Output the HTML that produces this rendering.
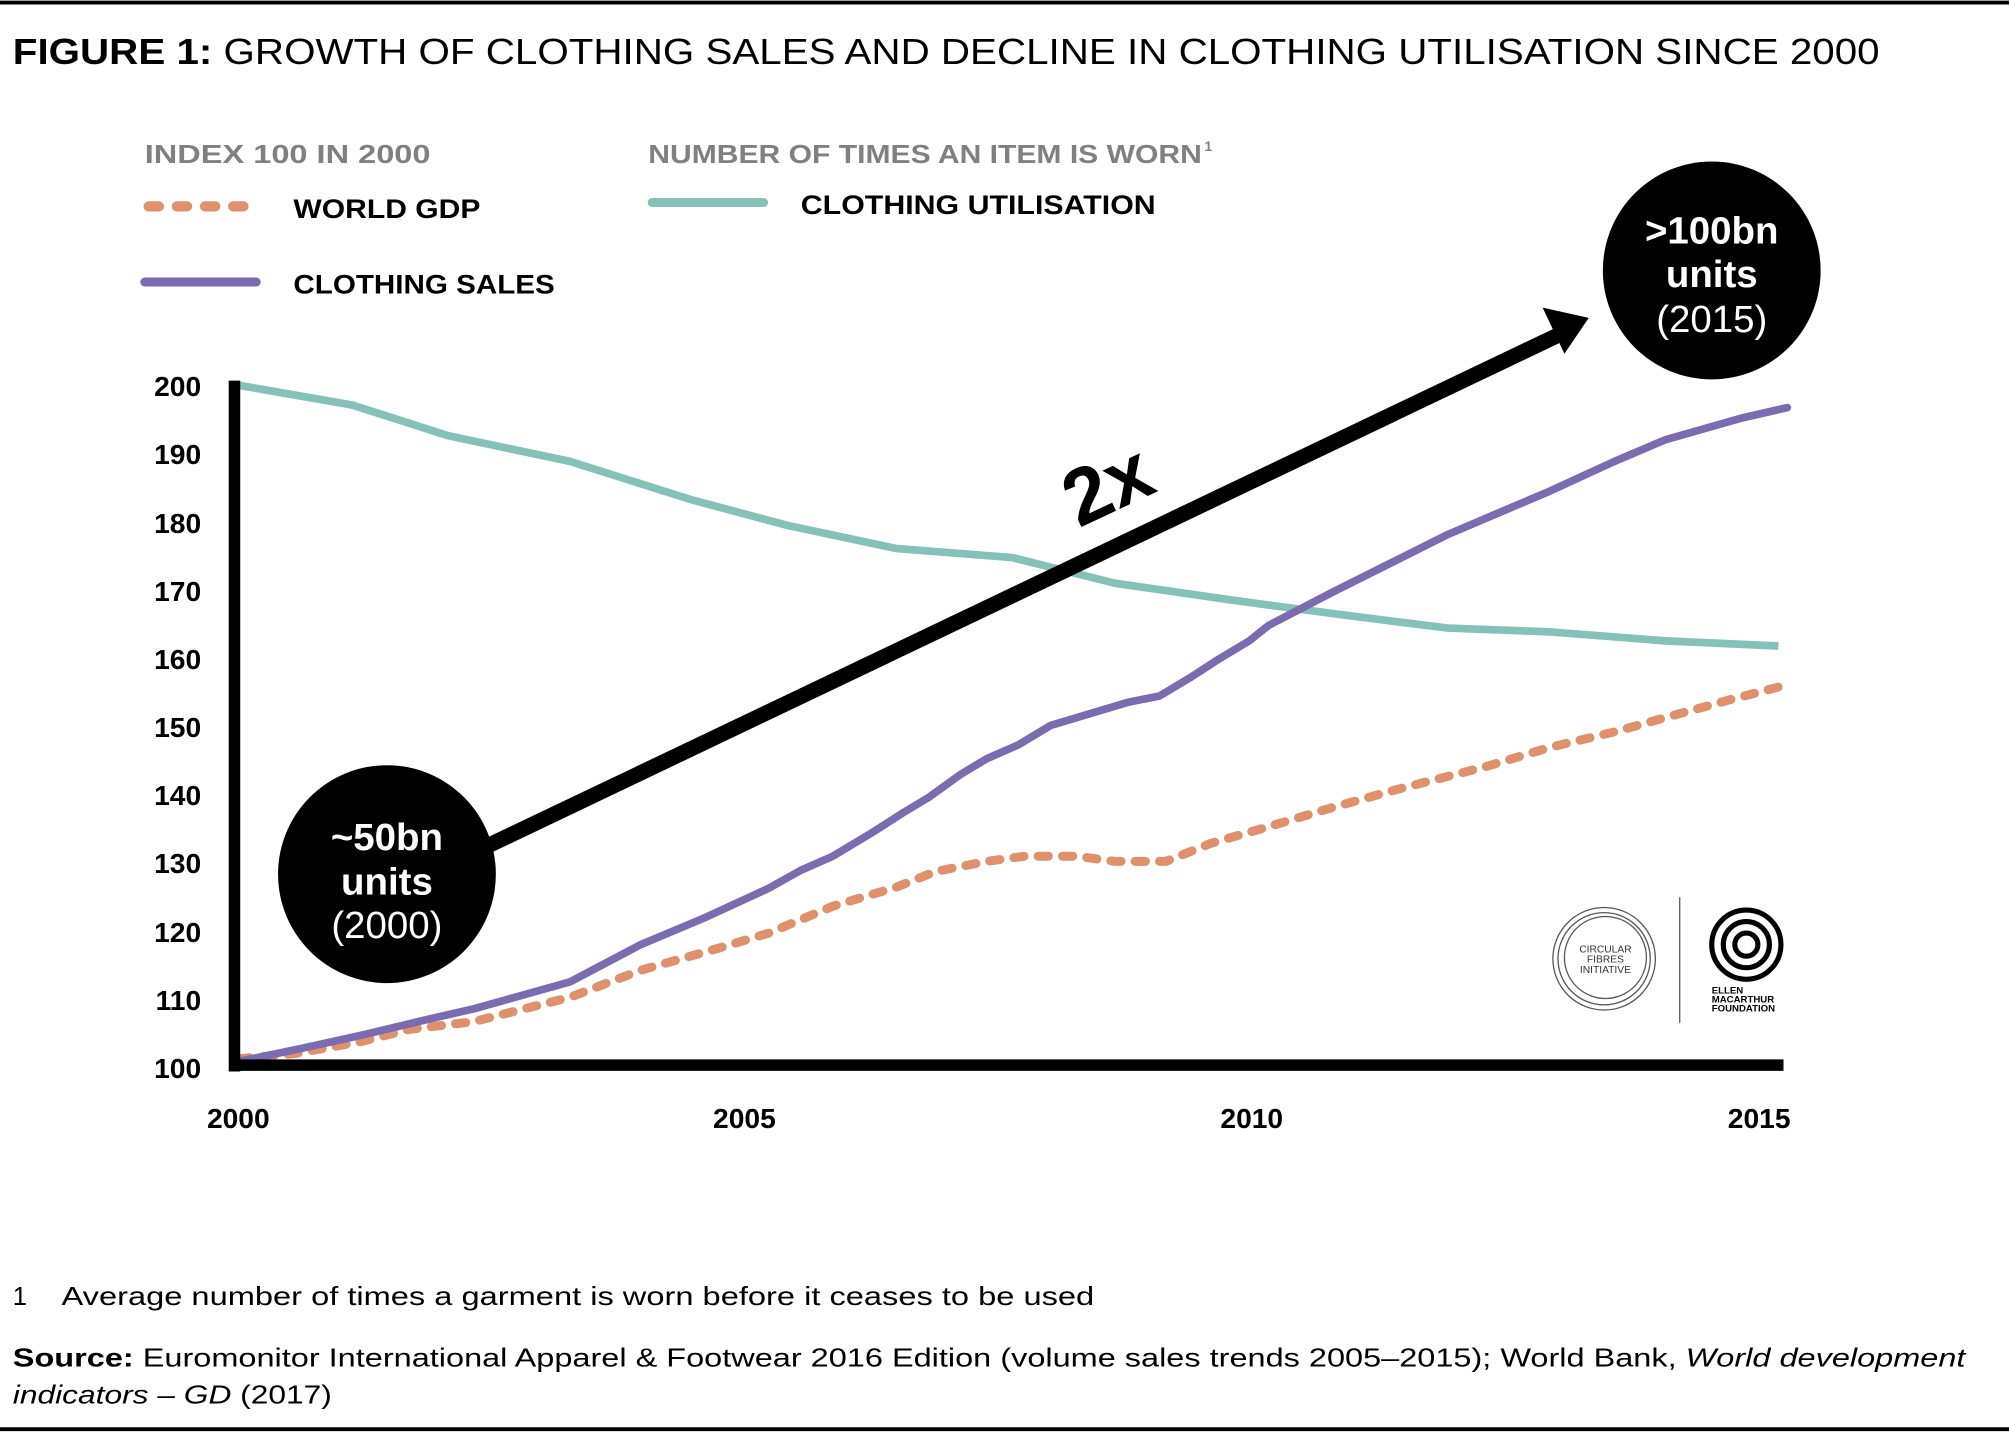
<!DOCTYPE html>
<html><head><meta charset="utf-8"><style>html,body{margin:0;padding:0;background:#fff}svg{display:block}text{font-family:"Liberation Sans",sans-serif}</style></head>
<body>
<svg width="2009" height="1433" viewBox="0 0 1568 1118" preserveAspectRatio="none" xmlns="http://www.w3.org/2000/svg">
<rect width="1568" height="1118" fill="#fff"/>
<line x1="0" y1="2" x2="1568" y2="2" stroke="#000" stroke-width="3"/>
<line x1="0" y1="1115" x2="1568" y2="1115" stroke="#000" stroke-width="3"/>
<text x="10" y="50" font-size="28" textLength="1457" lengthAdjust="spacingAndGlyphs"><tspan font-weight="bold">FIGURE 1:</tspan> GROWTH OF CLOTHING SALES AND DECLINE IN CLOTHING UTILISATION SINCE 2000</text>
<text x="113" y="127" font-size="20" font-weight="bold" fill="#808080" textLength="223" lengthAdjust="spacingAndGlyphs">INDEX 100 IN 2000</text>
<text x="506" y="127" font-size="20" font-weight="bold" fill="#808080" textLength="432" lengthAdjust="spacingAndGlyphs">NUMBER OF TIMES AN ITEM IS WORN</text>
<text x="940" y="118" font-size="11" font-weight="bold" fill="#808080">1</text>
<line x1="116" y1="161" x2="200" y2="161" stroke="#e0906a" stroke-width="8" stroke-linecap="round" stroke-dasharray="8 14"/>
<text x="229" y="170" font-size="21" font-weight="bold" textLength="146" lengthAdjust="spacingAndGlyphs">WORLD GDP</text>
<line x1="113" y1="220" x2="200" y2="220" stroke="#7b6bb0" stroke-width="7" stroke-linecap="round"/>
<text x="229" y="229" font-size="21" font-weight="bold" textLength="204" lengthAdjust="spacingAndGlyphs">CLOTHING SALES</text>
<line x1="509" y1="158" x2="596" y2="158" stroke="#84c1b9" stroke-width="7" stroke-linecap="round"/>
<text x="625" y="167" font-size="21" font-weight="bold" textLength="277" lengthAdjust="spacingAndGlyphs">CLOTHING UTILISATION</text>
<g font-size="22" font-weight="bold" text-anchor="end">
<text x="157" y="309">200</text><text x="157" y="362">190</text><text x="157" y="416">180</text><text x="157" y="469">170</text><text x="157" y="522">160</text><text x="157" y="575">150</text><text x="157" y="628">140</text><text x="157" y="681">130</text><text x="157" y="735">120</text><text x="157" y="788">110</text><text x="157" y="841">100</text>
</g>
<g font-size="22" font-weight="bold" text-anchor="middle">
<text x="186" y="880">2000</text><text x="581" y="880">2005</text><text x="977" y="880">2010</text><text x="1373" y="880">2015</text>
</g>
<polyline fill="none" stroke="#84c1b9" stroke-width="6" stroke-linejoin="round" points="183,300 275,316 350,340 445,360 540,390 615,410 700,428 790,435 870,455 960,468 1050,480 1130,490 1210,493 1300,500 1388,504"/>
<polyline fill="none" stroke="#e0906a" stroke-width="7" stroke-linecap="round" stroke-dasharray="8 11" points="187,826 230,822 280,813 320,803 370,797 445,778 500,757 560,740 600,728 650,707 700,692 730,680 770,672 800,668 840,668 870,672 910,672 945,658 990,645 1040,630 1090,616 1160,598 1210,583 1260,571 1310,557 1350,546 1392,535"/>
<polyline fill="none" stroke="#7b6bb0" stroke-width="6" stroke-linejoin="round" stroke-linecap="round" points="187,828 235,818 285,807 335,795 370,787 445,766 500,737 550,716 600,693 625,679 650,668 680,650 705,634 725,622 750,604 770,592 795,581 820,566 850,557 880,548 905,543 930,528 950,515 975,500 990,488 1040,462 1090,437 1130,417 1170,400 1210,383 1260,360 1300,343 1360,326 1395,318"/>
<line x1="183" y1="297" x2="183" y2="836" stroke="#000" stroke-width="9"/>
<line x1="179" y1="831" x2="1392" y2="831" stroke="#000" stroke-width="9"/>
<line x1="370" y1="665" x2="1215" y2="262" stroke="#000" stroke-width="12"/>
<polygon points="1240,248 1204,240 1221,276" fill="#000"/>
<text x="0" y="0" font-size="62" font-weight="bold" transform="translate(842,412) rotate(-25)">2x</text>
<circle cx="302" cy="682" r="85" fill="#000"/>
<g fill="#fff" text-anchor="middle" font-size="30">
<text x="302" y="663" font-weight="bold">~50bn</text><text x="302" y="698" font-weight="bold">units</text><text x="302" y="732">(2000)</text>
</g>
<circle cx="1336" cy="211" r="85" fill="#000"/>
<g fill="#fff" text-anchor="middle" font-size="30">
<text x="1336" y="190" font-weight="bold">&gt;100bn</text><text x="1336" y="224" font-weight="bold">units</text><text x="1336" y="259">(2015)</text>
</g>
<g fill="none" stroke="#555" stroke-width="1">
<circle cx="1252" cy="748" r="40"/><circle cx="1252" cy="748" r="36"/><circle cx="1253" cy="747" r="32"/>
</g>
<g font-size="8" text-anchor="middle" fill="#333"><text x="1253" y="743">CIRCULAR</text><text x="1253" y="751">FIBRES</text><text x="1253" y="759">INITIATIVE</text></g>
<line x1="1311" y1="700" x2="1311" y2="798" stroke="#555" stroke-width="1"/>
<g fill="none" stroke="#000" stroke-width="4"><circle cx="1363" cy="737" r="27"/><circle cx="1363" cy="737" r="18"/><circle cx="1363" cy="737" r="9"/></g>
<g font-size="7.5" font-weight="bold"><text x="1336" y="775">ELLEN</text><text x="1336" y="782">MACARTHUR</text><text x="1336" y="789">FOUNDATION</text></g>
<text x="10" y="1018" font-size="20">1</text>
<text x="48" y="1018" font-size="20" textLength="806" lengthAdjust="spacingAndGlyphs">Average number of times a garment is worn before it ceases to be used</text>
<text x="10" y="1066" font-size="20" textLength="1524" lengthAdjust="spacingAndGlyphs"><tspan font-weight="bold">Source:</tspan> Euromonitor International Apparel &amp; Footwear 2016 Edition (volume sales trends 2005–2015); World Bank, <tspan font-style="italic">World development</tspan></text>
<text x="10" y="1095" font-size="20" textLength="249" lengthAdjust="spacingAndGlyphs"><tspan font-style="italic">indicators – GD</tspan> (2017)</text>
</svg>
</body></html>
